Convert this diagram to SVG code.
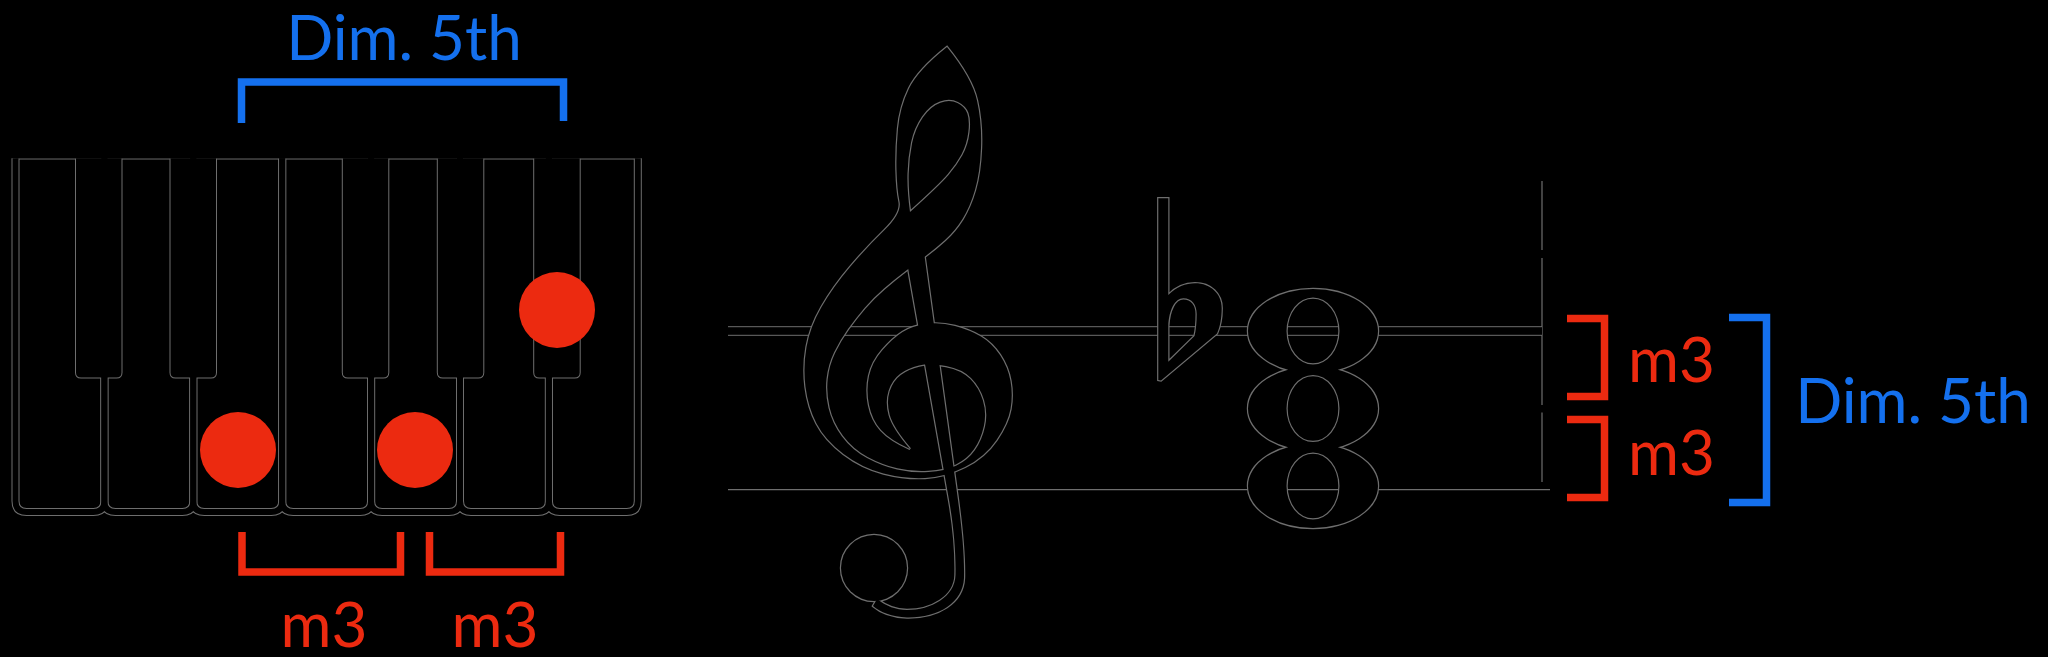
<svg xmlns="http://www.w3.org/2000/svg" xmlns:xlink="http://www.w3.org/1999/xlink" width="2048" height="657" viewBox="0 0 2048 657">
<style>
.lbl{font-family:Lato,"Open Sans","Liberation Sans",sans-serif;font-size:62px;text-anchor:middle}
.red{fill:#EC2A10}
.blue{fill:#1470EE}
.brR{fill:none;stroke:#EC2A10;stroke-width:7.5;stroke-linejoin:miter}
.brB{fill:none;stroke:#1470EE;stroke-width:7.5;stroke-linejoin:miter}
.halo{fill:#6e6e6e;stroke:#6e6e6e;stroke-width:2.4}
.ink{fill:#000;stroke:none}
</style>
<defs>
<clipPath id="kbclip"><rect x="0" y="158.3" width="700" height="400"/></clipPath>
<g id="wk">
<path d="M15.5,155.5 H637.8"/>
<path d="M15.5,150 V501 Q15.5,512 26.5,512 H93.4 Q104.4,512 104.4,501 V150"/>
<path d="M104.4,150 V501 Q104.4,512 115.4,512 H182.3 Q193.3,512 193.3,501 V150"/>
<path d="M193.3,150 V501 Q193.3,512 204.3,512 H271.2 Q282.2,512 282.2,501 V150"/>
<path d="M282.2,150 V501 Q282.2,512 293.2,512 H360.1 Q371.1,512 371.1,501 V150"/>
<path d="M371.1,150 V501 Q371.1,512 382.1,512 H449 Q460,512 460,501 V150"/>
<path d="M460,150 V501 Q460,512 471,512 H537.9 Q548.9,512 548.9,501 V150"/>
<path d="M548.9,150 V501 Q548.9,512 559.9,512 H626.8 Q637.8,512 637.8,501 V150"/>
</g>
<g id="bk">
<path d="M76,150 V372.5 Q76,377.5 81,377.5 H116.5 Q121.5,377.5 121.5,372.5 V150 Z"/>
<path d="M170.5,150 V372.5 Q170.5,377.5 175.5,377.5 H211 Q216,377.5 216,372.5 V150 Z"/>
<path d="M342.8,150 V372.5 Q342.8,377.5 347.8,377.5 H383.3 Q388.3,377.5 388.3,372.5 V150 Z"/>
<path d="M437.8,150 V372.5 Q437.8,377.5 442.8,377.5 H478.3 Q483.3,377.5 483.3,372.5 V150 Z"/>
<path d="M534.2,150 V372.5 Q534.2,377.5 539.2,377.5 H574.7 Q579.7,377.5 579.7,372.5 V150 Z"/>
</g>
<g id="clefShape">
<path fill-rule="evenodd" d="M947,47 Q918,70 909,88.5 Q900,107 898,128.5 Q896,150 896.5,170 Q897,190 899.5,201.5 Q902,213 884.5,230 Q867,247 850,267 Q833,287 821.5,307 Q810,327 806.5,347 Q803,367 805.5,387 Q808,407 816.5,423.5 Q825,440 843.5,454 Q862,468 883.5,473.5 Q905,479 925,478 Q945,477 965,467 Q985,457 996.5,440 Q1008,423 1010.5,409 Q1013,395 1010.5,381 Q1008,367 1000,355 Q992,343 981,336.5 Q970,330 955,326 Q940,322 926,324 Q912,326 902.5,332 Q893,338 882.5,350 Q872,362 869,376 Q866,390 869,405 Q872,420 881,430 Q890,440 910,449 Q892,428 888.5,415 Q885,402 888.5,391 Q892,380 900,374 Q908,368 919,365.5 Q930,363 946,366 Q962,369 971,378 Q980,387 984,400 Q988,413 985,426.5 Q982,440 975,450 Q968,460 956.5,465.5 Q945,471 928.5,472 Q912,473 897,469.5 Q882,466 867,458 Q852,450 842,436.5 Q832,423 828.5,408 Q825,393 826.5,379 Q828,365 834,352.5 Q840,340 848,329 Q856,318 864.5,308 Q873,298 884,288.5 Q895,279 905,271.5 Q915,264 925,256.5 Q935,249 945,240 Q955,231 962.5,219 Q970,207 975,190 Q980,173 981,148 Q982,123 977,100.5 Q972,78 947,47 Z M910,212 Q907,190 907.5,173.5 Q908,157 911,142.5 Q914,128 922,116.5 Q930,105 940,101.5 Q950,98 958,102 Q966,106 968.5,113 Q971,120 969.5,132.5 Q968,145 962.5,155 Q957,165 948.5,175 Q940,185 910,212 Z"/>
<path d="M907,262 L924,252 L958,500 C962,530 964.5,555 964,578 C963,603 938,618 907,617.5 C892,617 880,612 873,606 L877,599 C886,606 896,610 907,610 C931,610 955,597 955.5,575 C956,555 954,528 949,500 Z"/>
<circle cx="874" cy="568" r="33"/>
</g>
<path id="flatShape" fill-rule="evenodd" d="M1158.3,198.3 H1168.3 V295 C1176,287 1186,283.3 1195,283.3 C1211,283.3 1221.7,294 1221.7,308.3 C1221.7,318 1220,327 1217,333.5 L1161,380.5 L1158.3,380 Z M1168.3,326 C1169,310 1175,298.3 1183.3,298.3 C1192,298.3 1196.7,305 1196.7,314 C1196.7,322 1196,330 1194.5,336 L1168.3,361.7 Z"/>
<path id="chordShape" d="M1248,331 A65,42 0 1,1 1378,331 A65,42 0 1,1 1248,331 Z M1286.5,331 A26.5,33.5 0 1,0 1339.5,331 A26.5,33.5 0 1,0 1286.5,331 Z M1248,408.5 A65,42 0 1,1 1378,408.5 A65,42 0 1,1 1248,408.5 Z M1286.5,408.5 A26.5,33.5 0 1,0 1339.5,408.5 A26.5,33.5 0 1,0 1286.5,408.5 Z M1248,486 A65,42 0 1,1 1378,486 A65,42 0 1,1 1248,486 Z M1286.5,486 A26.5,33.5 0 1,0 1339.5,486 A26.5,33.5 0 1,0 1286.5,486 Z"/>
</defs>

<rect x="0" y="0" width="2048" height="657" fill="#000"/>

<g id="keyboard" clip-path="url(#kbclip)">
<use xlink:href="#wk" fill="none" stroke="#6e6e6e" stroke-width="8"/>
<use xlink:href="#bk" fill="#6e6e6e" stroke="#6e6e6e" stroke-width="2"/>
<use xlink:href="#wk" fill="none" stroke="#000" stroke-width="6"/>
<use xlink:href="#bk" fill="#000" stroke="none"/>
</g>

<g id="dots">
<circle cx="238" cy="450" r="38" class="red"/>
<circle cx="415" cy="450" r="38" class="red"/>
<circle cx="557" cy="310" r="38" class="red"/>
</g>

<g id="staff">
<line x1="1542" y1="177" x2="1542" y2="490" stroke="#6e6e6e" stroke-width="1.2"/>
<rect x="728" y="326.2" width="814" height="9.6" fill="#6e6e6e"/>
<rect x="728" y="327.2" width="814" height="7.6" fill="#000"/>
<line x1="728" y1="489.6" x2="1550" y2="489.6" stroke="#6e6e6e" stroke-width="1.2"/>
<rect x="728" y="482" width="822" height="7" fill="#000"/>
<rect x="728" y="173" width="822" height="8" fill="#000"/>
<rect x="728" y="250" width="822" height="8" fill="#000"/>
<rect x="728" y="405" width="822" height="7.5" fill="#000"/>
</g>

<g id="clef">
<use xlink:href="#clefShape" class="halo"/>
<use xlink:href="#clefShape" class="ink"/>
</g>

<g id="flat">
<use xlink:href="#flatShape" class="halo"/>
<use xlink:href="#flatShape" class="ink"/>
</g>

<g id="chord">
<use xlink:href="#chordShape" class="halo"/>
<use xlink:href="#chordShape" class="ink"/>
</g>

<g id="brackets">
<path class="brB" d="M241.5,123 V82 H563.5 V121"/>
<path class="brR" d="M242,532 V572 H400.5 V532"/>
<path class="brR" d="M429.5,532 V572 H560.5 V532"/>
<path class="brR" d="M1567,318.5 H1604.5 V396.5 H1567"/>
<path class="brR" d="M1567,419.5 H1604.5 V497.5 H1567"/>
<path class="brB" d="M1729,317.5 H1766.5 V502.5 H1729"/>
</g>

<g id="labels">
<text class="lbl blue" x="404" y="60">Dim. 5th</text>
<text class="lbl red" x="324" y="647">m3</text>
<text class="lbl red" x="495" y="647">m3</text>
<text class="lbl red" x="1671.5" y="382">m3</text>
<text class="lbl red" x="1671.5" y="475">m3</text>
<text class="lbl blue" x="1913" y="423">Dim. 5th</text>
</g>
</svg>
